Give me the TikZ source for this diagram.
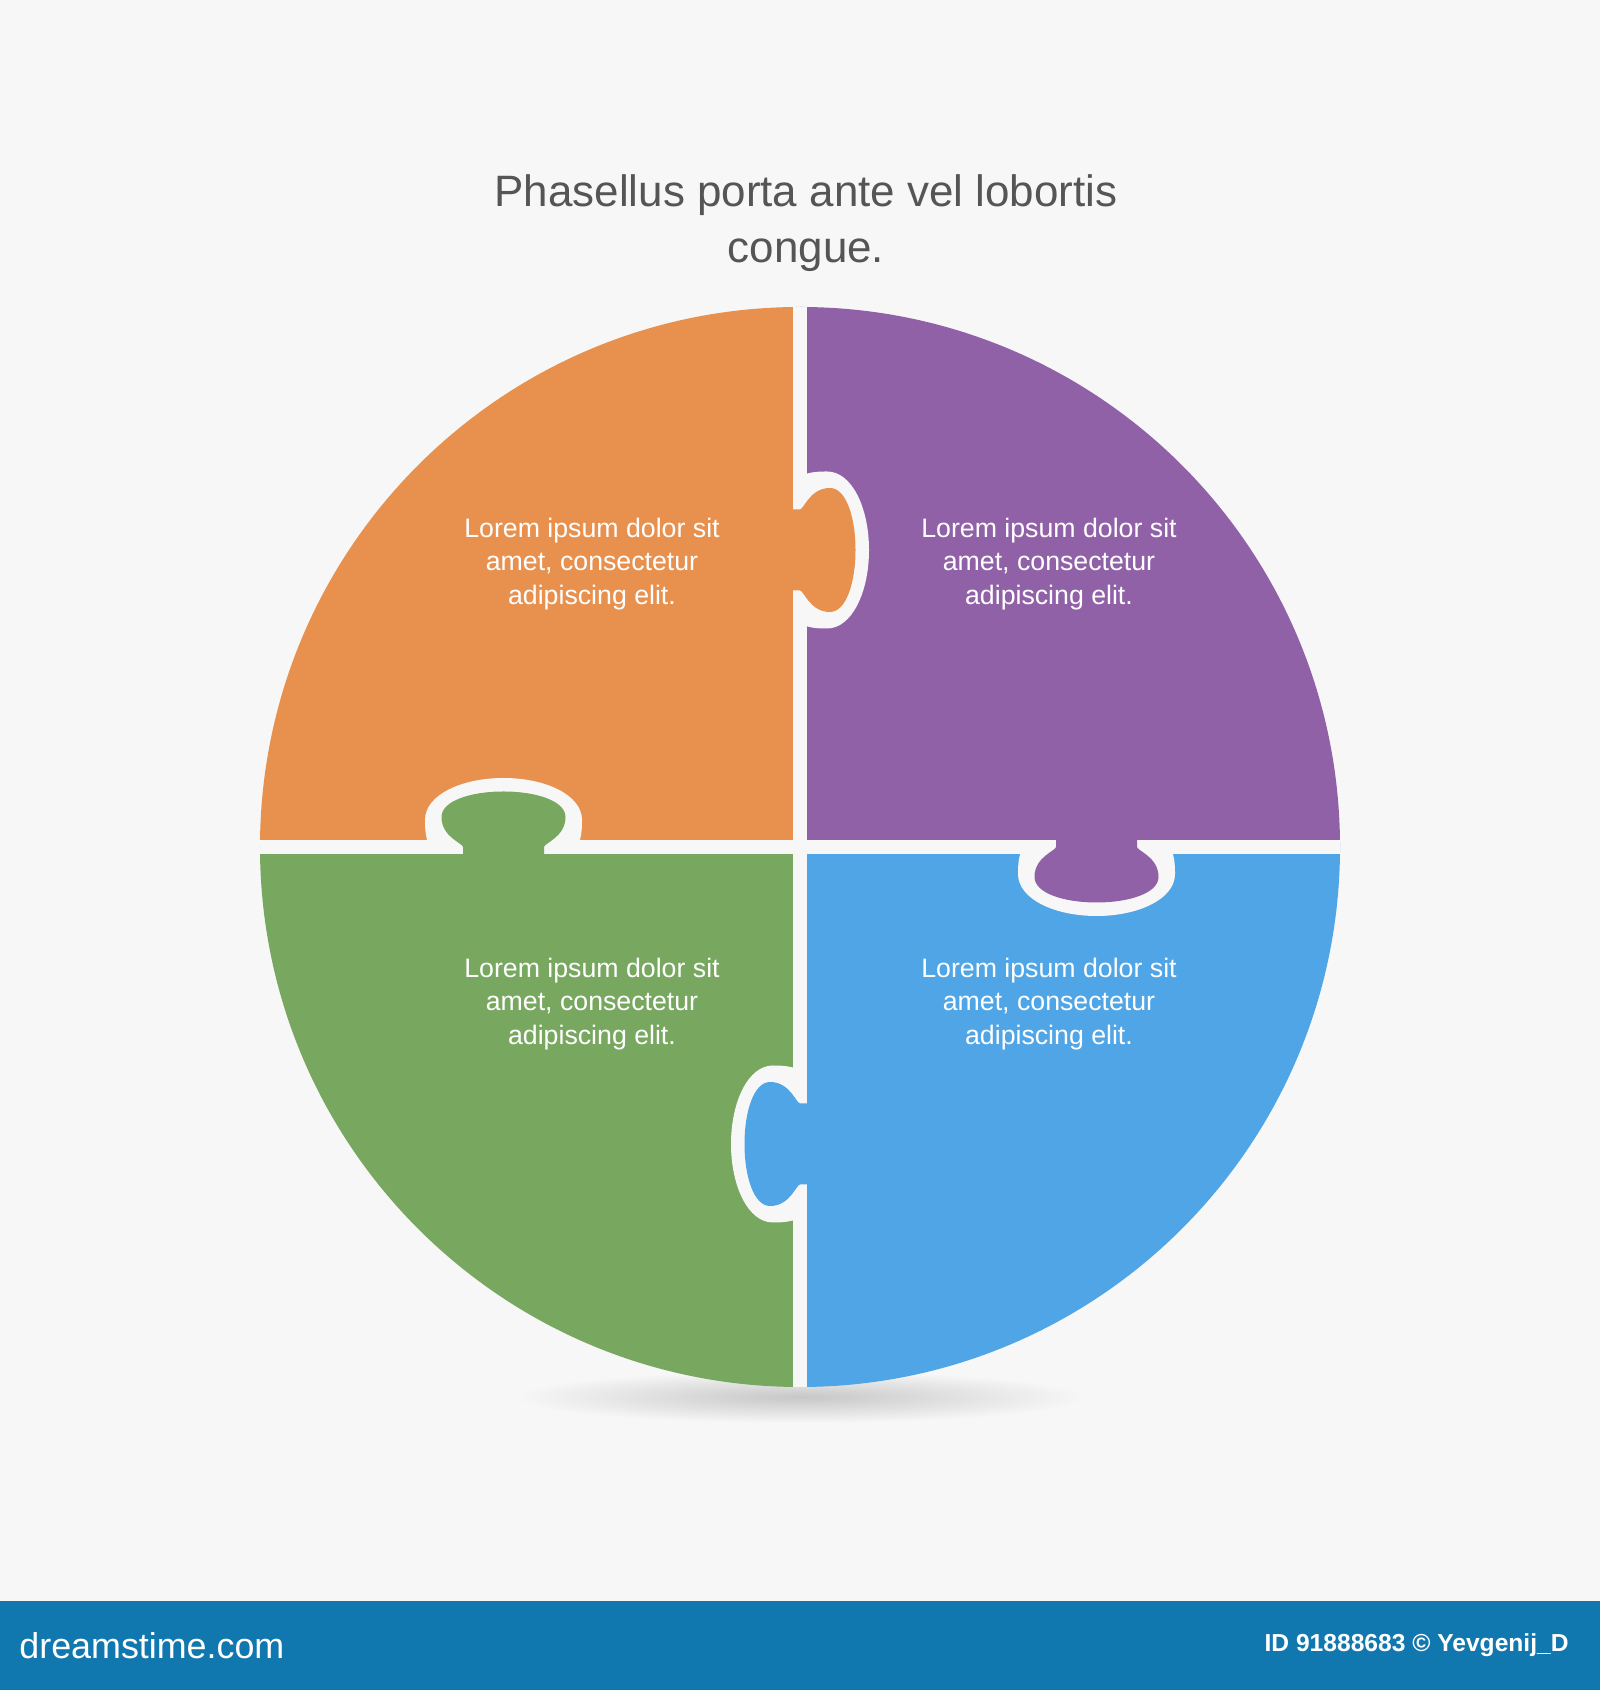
\documentclass[tikz,border=0pt]{standalone}
\usepackage{fontspec}
\setmainfont{Liberation Sans}
\definecolor{bg}{HTML}{F7F7F7}
\definecolor{pz-orange}{HTML}{E8914E}
\definecolor{pz-purple}{HTML}{9161A8}
\definecolor{pz-green}{HTML}{78A760}
\definecolor{pz-blue}{HTML}{50A5E6}
\definecolor{bar-blue}{HTML}{1177AF}
\definecolor{title-gray}{HTML}{555555}
\begin{document}
\begin{tikzpicture}[line join=round, line cap=round,
		gap/.style={draw=bg, line width=0.145cm},
		piece text/.style={text=white, align=center, font=\fontsize{7.6}{9.5}\selectfont},
		title text/.style={text=title-gray, align=center, font=\fontsize{12.5}{15.9}\selectfont}
		]
		\useasboundingbox[fill=bg] (-8,-8.43) rectangle (8,8.47);
		% soft shadow under the circle
		\shade[inner color=black!22, outer color=bg] (0,-5.50) ellipse (2.85 and 0.26);
		\begin{scope}
			\clip (0,0) circle (5.40);
			\fill[pz-orange] (-6,0) rectangle (0,6);
			\fill[pz-purple] (0,0) rectangle (6,6);
			\fill[pz-green] (-6,-6) rectangle (0,0);
			\fill[pz-blue] (0,-6) rectangle (6,0);
			\draw[gap] (0,-6)--(0,6);
			\draw[gap] (-6,0)--(6,0);
			% puzzle tabs: x/y/rotation/owner
			\foreach \x/\y/\ang/\col in {0/2.97/-90/pz-orange, 0/-2.97/90/pz-blue, -2.965/0/0/pz-green, 2.965/0/180/pz-purple}{
				\begin{scope}[shift={(\x,\y)}, rotate=\ang]
					\fill[bg] (-0.74,0) .. controls (-0.78,0.10) and (-0.785,0.17) .. (-0.785,0.27)
						.. controls (-0.785,0.52) and (-0.42,0.69) .. (0,0.69)
						.. controls (0.42,0.69) and (0.785,0.52) .. (0.785,0.27)
						.. controls (0.785,0.17) and (0.78,0.10) .. (0.74,0) -- cycle;
					\fill[\col] (-0.405,-0.08) -- (-0.405,0) .. controls (-0.41,0.04) and (-0.62,0.10) .. (-0.62,0.30)
						.. controls (-0.62,0.46) and (-0.33,0.555) .. (0,0.555)
						.. controls (0.33,0.555) and (0.62,0.46) .. (0.62,0.30)
						.. controls (0.62,0.10) and (0.41,0.04) .. (0.405,0) -- (0.405,-0.08) -- cycle;
				\end{scope}
			}
		\end{scope}
		\node[title text] (title) at (0.06,6.24) {Phasellus porta ante vel lobortis\\congue.};
		\node[piece text] (orange-text) at (-2.08,2.83) {Lorem ipsum dolor sit\\amet, consectetur\\adipiscing elit.};
		\node[piece text] (purple-text) at (2.49,2.83) {Lorem ipsum dolor sit\\amet, consectetur\\adipiscing elit.};
		\node[piece text] (green-text) at (-2.08,-1.57) {Lorem ipsum dolor sit\\amet, consectetur\\adipiscing elit.};
		\node[piece text] (blue-text) at (2.49,-1.57) {Lorem ipsum dolor sit\\amet, consectetur\\adipiscing elit.};
		% bottom bar
		\fill[bar-blue] (-8,-8.43) rectangle (8,-7.54);
		\node[anchor=west, text=white, font=\fontsize{10.2}{12}\selectfont] (site) at (-7.93,-7.99) {dreamstime.com};
		\node[anchor=east, text=white, font=\bfseries\fontsize{7}{9}\selectfont] (credit) at (7.81,-7.98) {ID 91888683 © Yevgenij\_D};
		
\end{tikzpicture}
\end{document}
